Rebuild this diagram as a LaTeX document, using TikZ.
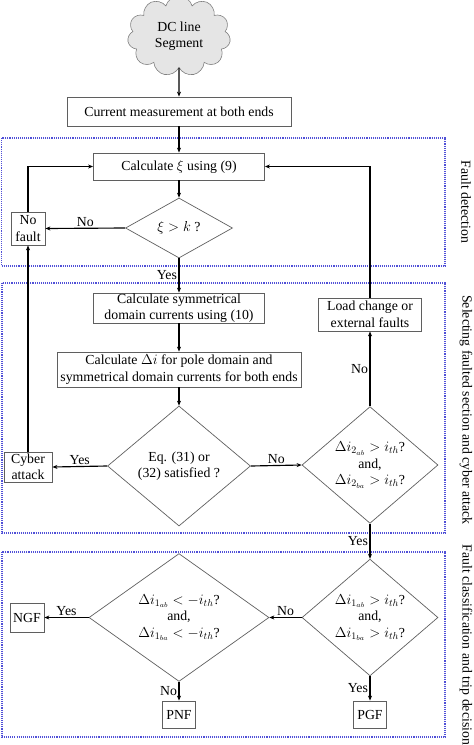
\documentclass[tikz,border=0pt]{standalone}
\usepackage{fontspec}
\setmainfont{Liberation Serif}
\usetikzlibrary{shapes.geometric,shapes.symbols,arrows.meta}
\definecolor{frameblue}{RGB}{80,80,215}
\definecolor{boxgray}{RGB}{95,95,95}
\begin{document}
\begin{tikzpicture}[x=1pt,y=-1pt,
  font=\fontsize{13.8}{16.5}\selectfont,
  procbox/.style={draw=boxgray,line width=0.8pt,rectangle,inner sep=0pt,align=center},
  decbox/.style={draw=boxgray,line width=0.7pt,diamond,inner sep=0pt,align=center},
  flow/.style={line width=1.15pt,-{Stealth[length=5pt,width=4pt]}},
  zone/.style={draw=frameblue,densely dotted,line width=1.1pt},
  lbl/.style={inner sep=1.5pt},
  sidelbl/.style={rotate=-90,inner sep=0pt}
]
\useasboundingbox (0,0) rectangle (474,745);
% zones
\draw[zone] (1.5,138) rectangle (445,266);
\draw[zone] (2,283) rectangle (445,533);
\draw[zone] (2,552) rectangle (445,737);
% nodes
\node[cloud, cloud puffs=11, draw=gray, fill=gray!20, line width=0.6pt, minimum width=103pt, minimum height=72pt, align=center, inner sep=0pt] (cloud) at (179,36) {DC line\\Segment};
\node[procbox, minimum width=224pt, minimum height=29pt] (current) at (179,111.5) {Current measurement at both ends};
\node[procbox, minimum width=171pt, minimum height=27pt] (calcxi) at (179,166.5) {Calculate $\xi$ using (9)};
\node[decbox, minimum width=107pt, minimum height=60pt] (xidec) at (179,228) {$\xi > k$ ?};
\node[procbox, minimum width=34pt, minimum height=33pt] (nofault) at (28,228.5) {No\\fault};
\node[procbox, minimum width=171pt, minimum height=30pt] (calcsym) at (179,308) {Calculate symmetrical\\domain currents using (10)};
\node[procbox, minimum width=244pt, minimum height=35pt] (calcdi) at (179,369.5) {Calculate $\Delta i$ for pole domain and\\symmetrical domain currents for both ends};
\node[decbox, minimum width=143pt, minimum height=120pt] (eqdec) at (179,466) {Eq. (31) or\\(32) satisfied ?};
\node[procbox, minimum width=48pt, minimum height=30pt] (cyber) at (28,467) {Cyber\\attack};
\node[decbox, minimum width=136pt, minimum height=114pt] (i2dec) at (370,465) {$\Delta i_{2_{ab}} > i_{th}$?\\and,\\$\Delta i_{2_{ba}} > i_{th}$?};
\node[procbox, minimum width=103pt, minimum height=33pt] (load) at (370,314.5) {Load change or\\external faults};
\node[decbox, minimum width=136pt, minimum height=115pt] (i1pdec) at (370,617.5) {$\Delta i_{1_{ab}} > i_{th}$?\\and,\\$\Delta i_{1_{ba}} > i_{th}$?};
\node[decbox, minimum width=180pt, minimum height=121pt] (i1ndec) at (179,617.5) {$\Delta i_{1_{ab}} < -i_{th}$?\\and,\\$\Delta i_{1_{ba}} < -i_{th}$?};
\node[procbox, minimum width=34pt, minimum height=29pt] (ngf) at (27,617.5) {NGF};
\node[procbox, minimum width=33pt, minimum height=27pt] (pnf) at (179,714.5) {PNF};
\node[procbox, minimum width=33pt, minimum height=27pt] (pgf) at (370,714.5) {PGF};
% side labels
\node[sidelbl] (lab1) at (466,202) {Fault detection};
\node[sidelbl] (lab2) at (466,410) {Selecting faulted section and cyber attack};
\node[sidelbl] (lab3) at (466,645) {Fault classification and trip decision};
% connectors
\draw[flow] (cloud.south) -- (current.north);
\draw[flow] (current) -- (calcxi);
\draw[flow] (calcxi) -- (xidec);
\draw[flow] (xidec.west) -- node[lbl,above]{No} (nofault.east);
\draw[flow] (nofault.north) |- (calcxi.west);
\draw[flow] (xidec.south) -- node[lbl,left]{Yes} (calcsym.north);
\draw[flow] (calcsym) -- (calcdi);
\draw[flow] (calcdi) -- (eqdec);
\draw[flow] (eqdec.west) -- node[lbl,above]{Yes} (cyber.east);
\draw[flow] (cyber.north) -- (nofault.south);
\draw[flow] (eqdec.east) -- node[lbl,above]{No} (i2dec.west);
\draw[flow] (i2dec.north) -- node[lbl,left]{No} (load.south);
\draw[flow] (load.north) |- (calcxi.east);
\draw[flow] (i2dec.south) -- node[lbl,left]{Yes} (i1pdec.north);
\draw[flow] (i1pdec.west) -- node[lbl,above]{No} (i1ndec.east);
\draw[flow] (i1ndec.west) -- node[lbl,above]{Yes} (ngf.east);
\draw[flow] (i1ndec.south) -- node[lbl,left]{No} (pnf.north);
\draw[flow] (i1pdec.south) -- node[lbl,left]{Yes} (pgf.north);
\end{tikzpicture}
\end{document}
